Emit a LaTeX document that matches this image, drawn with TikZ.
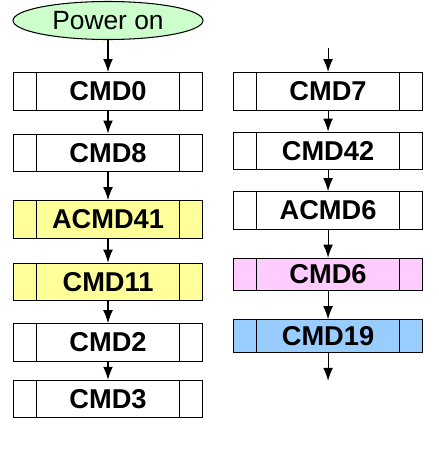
\documentclass[tikz,border=0pt]{standalone}
\usepackage{fontspec}
\setmainfont{Liberation Sans}
\usetikzlibrary{positioning,arrows.meta,shapes.geometric}
\tikzset{>={Latex[scale=1.3]}}
\definecolor{pwrgreen}{RGB}{204,255,204}
\definecolor{cmdyellow}{RGB}{255,255,153}
\definecolor{cmdpink}{RGB}{255,204,255}
\definecolor{cmdblue}{RGB}{153,204,255}
\tikzset{
  cmd/.style={draw, line width=0.6pt, minimum width=3.78cm, minimum height=0.75cm,
    inner sep=0pt, font=\fontsize{15.5}{18}\selectfont\bfseries,
    path picture={
      \draw[line width=0.6pt] ([xshift=0.46cm]path picture bounding box.north west)
        -- ([xshift=0.46cm]path picture bounding box.south west);
      \draw[line width=0.6pt] ([xshift=-0.46cm]path picture bounding box.north east)
        -- ([xshift=-0.46cm]path picture bounding box.south east);
    }},
  slim/.style={minimum height=0.65cm}
}

\begin{document}
\begin{tikzpicture}[line width=0.6pt]
        \useasboundingbox (0,0) rectangle (8.78,-9.12);
        \node[ellipse, draw, fill=pwrgreen, minimum width=3.8cm, minimum height=0.76cm,
          inner sep=0pt, font=\fontsize{15}{18}\selectfont] (pwr) at (2.16,-0.41) {Power on};
        % left column
        \node[cmd] [below=0.64cm of pwr] (cmd0) {CMD0};
        \node[cmd] [below=0.46cm of cmd0] (cmd8) {CMD8};
        \node[cmd, fill=cmdyellow] [below=0.56cm of cmd8] (acmd41) {ACMD41};
        \node[cmd, fill=cmdyellow] [below=0.48cm of acmd41] (cmd11) {CMD11};
        \node[cmd] [below=0.44cm of cmd11] (cmd2) {CMD2};
        \node[cmd] [below=0.36cm of cmd2] (cmd3) {CMD3};
        % right column
        \node[cmd] [right=0.6cm of cmd0] (cmd7) {CMD7};
        \node[cmd] [below=0.42cm of cmd7] (cmd42) {CMD42};
        \node[cmd] [below=0.42cm of cmd42] (acmd6) {ACMD6};
        \node[cmd, slim, fill=cmdpink] [below=0.56cm of acmd6] (cmd6) {CMD6};
        \node[cmd, slim, fill=cmdblue] [below=0.56cm of cmd6] (cmd19) {CMD19};
        \coordinate[above=0.48cm of cmd7] (in7);
        \coordinate[below=0.56cm of cmd19] (out19);

        \path[->]
        (pwr) edge (cmd0)
        (cmd0) edge (cmd8)
        (cmd8) edge (acmd41)
        (acmd41) edge (cmd11)
        (cmd11) edge (cmd2)
        (cmd2) edge (cmd3)
        (in7) edge (cmd7)
        (cmd7) edge (cmd42)
        (cmd42) edge (acmd6)
        (acmd6) edge (cmd6)
        (cmd6) edge (cmd19)
        (cmd19) edge (out19);
      \end{tikzpicture}
\end{document}
